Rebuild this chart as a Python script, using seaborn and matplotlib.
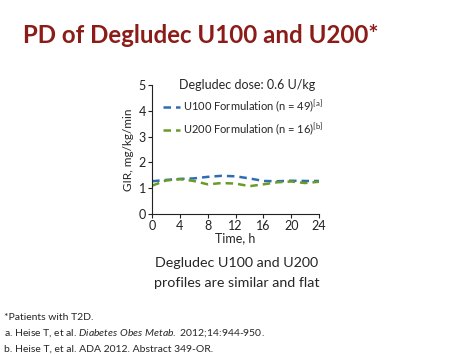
import matplotlib
matplotlib.use("Agg")
import matplotlib.pyplot as plt
import seaborn as sns
import pandas as pd

time_h = [0, 2, 4, 6, 8, 10, 12, 14, 16, 18, 20, 22, 24]
u100 = [1.27, 1.32, 1.36, 1.38, 1.44, 1.48, 1.46, 1.38, 1.28, 1.27, 1.29, 1.28, 1.28]
u200 = [1.10, 1.30, 1.35, 1.28, 1.15, 1.20, 1.18, 1.08, 1.15, 1.23, 1.26, 1.20, 1.25]
series_names = ["U100 Formulation (n = 49)$^{\\mathrm{[a]}}$",
                "U200 Formulation (n = 16)$^{\\mathrm{[b]}}$"]
x_ticks = [0, 4, 8, 12, 16, 20, 24]
y_ticks = [0, 1, 2, 3, 4, 5]

sns.set_style("ticks")
plt.rcParams['font.family'] = ['Lato', 'DejaVu Sans']
plt.rcParams['mathtext.fontset'] = 'custom'
plt.rcParams['mathtext.rm'] = 'Lato'
plt.rcParams['mathtext.it'] = 'Lato:italic'

df = pd.DataFrame({
    "Time": time_h * 2,
    "GIR": u100 + u200,
    "Series": [series_names[0]] * len(time_h) + [series_names[1]] * len(time_h),
})

fig = plt.figure(figsize=(4.74, 3.55), dpi=100)
ax = fig.add_axes([0.321, 0.397, 0.352, 0.364])
sns.lineplot(data=df, x="Time", y="GIR", hue="Series", ax=ax,
             palette=["#2f6db3", "#6b9b27"], linewidth=1.8, legend=True)
for line in ax.get_lines():
    line.set_dashes([3, 2])
ax.set_xlim(0, 24)
ax.set_ylim(0, 5)
ax.set_xticks(x_ticks)
ax.set_yticks(y_ticks)
ax.tick_params(labelsize=9, length=3, width=0.8, pad=1.5, colors="#222222")
sns.despine(ax=ax)
for s in ["left", "bottom"]:
    ax.spines[s].set_linewidth(0.8)
    ax.spines[s].set_color("#222222")
ax.set_xlabel("Time, h", fontsize=9, labelpad=0)
ax.set_ylabel("GIR, mg/kg/min", fontsize=8.5, labelpad=3)

leg = ax.legend(loc="upper left", bbox_to_anchor=(0.04, 0.93), frameon=False,
                fontsize=8, handlelength=1.5, handletextpad=0.3, labelspacing=0.55,
                borderaxespad=0)
for h in leg.get_lines():
    h.set_dashes([3, 2])
    h.set_linewidth(1.8)

ax.text(0.57, 1.0, "Degludec dose: 0.6 U/kg", transform=ax.transAxes,
        ha="center", va="center", fontsize=9)

fig.text(0.049, 0.90, "PD of Degludec U100 and U200*", fontsize=17.3,
         fontweight="bold", color="#8b1c18", ha="left", va="center")
fig.text(0.5, 0.258, "Degludec U100 and U200", fontsize=10.3, ha="center", va="center")
fig.text(0.5, 0.202, "profiles are similar and flat", fontsize=10.3, ha="center", va="center")
fig.text(0.008, 0.107, "*Patients with T2D.", fontsize=7.5, ha="left", va="center")
fig.text(0.008, 0.062, "a. Heise T, et al. $\\mathit{Diabetes\\ Obes\\ Metab.}$ 2012;14:944-950.",
         fontsize=7.5, ha="left", va="center")
fig.text(0.008, 0.017, "b. Heise T, et al. ADA 2012. Abstract 349-OR.", fontsize=7.5,
         ha="left", va="center")

fig.savefig("out.png", dpi=100)
